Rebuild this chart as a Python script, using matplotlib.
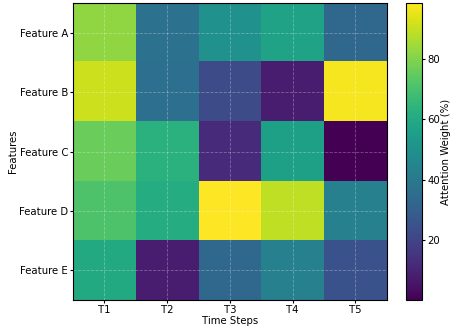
import matplotlib
matplotlib.use("Agg")
import matplotlib.pyplot as plt
import numpy as np

FEATURES = ["Feature A", "Feature B", "Feature C", "Feature D", "Feature E"]
TIME_STEPS = ["T1", "T2", "T3", "T4", "T5"]

# attention weights (%) per feature, one value per time step
FEATURE_A = [82, 37, 50, 57, 33]
FEATURE_B = [91, 36, 23, 8, 97]
FEATURE_C = [76, 63, 12, 56, 0.2]
FEATURE_D = [71, 61, 98.5, 89, 43]
FEATURE_E = [60, 8, 33, 43, 25]

weights = np.array([FEATURE_A, FEATURE_B, FEATURE_C, FEATURE_D, FEATURE_E])

plt.rcParams["font.size"] = 7.3

fig = plt.figure(figsize=(4.74, 3.35), dpi=100)
ax = fig.add_axes([0.154, 0.104, 0.662, 0.887])
cax = fig.add_axes([0.857, 0.104, 0.034, 0.887])

im = ax.imshow(weights, cmap="viridis", aspect="auto")
ax.set_xticks(range(len(TIME_STEPS)))
ax.set_xticklabels(TIME_STEPS)
ax.set_yticks(range(len(FEATURES)))
ax.set_yticklabels(FEATURES)
ax.tick_params(length=2, pad=1.5)
ax.set_xlabel("Time Steps", labelpad=1)
ax.set_ylabel("Features", labelpad=1)
ax.grid(True, color="white", linestyle="--", linewidth=0.6, alpha=0.3)

cbar = fig.colorbar(im, cax=cax)
cbar.ax.tick_params(length=2, pad=1.5)
cbar.set_label("Attention Weight (%)", labelpad=1)
cbar.set_ticks([20, 40, 60, 80])

fig.savefig("out.png", dpi=100)
